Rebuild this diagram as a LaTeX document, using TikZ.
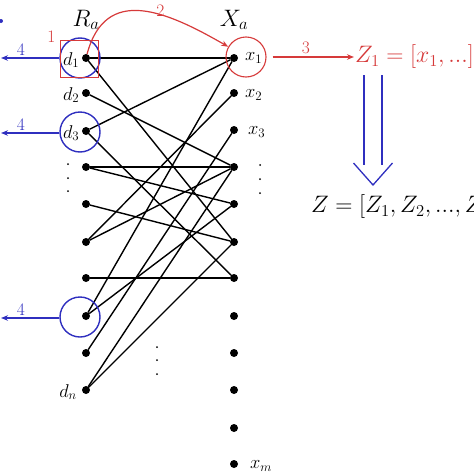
\RequirePackage{fix-cm}
\documentclass[tikz,border=0pt]{standalone}
\usepackage{mathtools}
\usepackage{tkz-graph}
\usetikzlibrary{arrows.meta,positioning}
\definecolor{myRed}{HTML}{D63A3A}
\definecolor{myBlue}{HTML}{2F2FBF}

\begin{document}
\begin{tikzpicture}[x=1pt,y=1pt]
	\useasboundingbox (0,0) rectangle (474,-474);
	\clip (0,0) rectangle (474,-474);
	\GraphInit[vstyle=Classic]
	\SetVertexNoLabel
	\tikzset{VertexStyle/.style = {shape=circle, fill=black, minimum size=8pt, inner sep=0pt}}
	\SetUpEdge[lw=1.4pt, style={-}, color=black]
	\tikzset{small/.style = {font=\fontsize{18.5}{22}\selectfont, inner sep=1pt, yshift=-2pt},
		big/.style = {font=\fontsize{23.8}{28}\selectfont, inner sep=1pt},
		num/.style = {font=\fontsize{17.5}{21}\selectfont, inner sep=1pt},
		blueRing/.style = {circle, draw=myBlue, line width=1.4pt, minimum size=40pt, inner sep=0pt},
		redRing/.style = {circle, draw=myRed, line width=1.1pt, minimum size=40pt, inner sep=0pt},
		redBox/.style = {rectangle, draw=myRed, line width=1pt, minimum width=38pt, minimum height=37pt, inner sep=0pt},
		blueArrow/.style = {myBlue, line width=1.2pt, -{Stealth[length=7pt, width=5.5pt]}},
		redArrow/.style = {myRed, line width=1.2pt, -{Stealth[length=7pt, width=5.5pt]}}}
	
	% Knoten
	\Vertex[x=86,y=-58]{d1}
	\Vertex[x=86,y=-93]{d2}
	\Vertex[x=86,y=-131]{d3}
	\Vertex[x=86,y=-167]{d4}
	\Vertex[x=86,y=-204]{d5}
	\Vertex[x=86,y=-242]{d6}
	\Vertex[x=86,y=-278]{d7}
	\Vertex[x=86,y=-316]{d8}
	\Vertex[x=86,y=-353]{d9}
	\Vertex[x=86,y=-390]{d10}
	
	\Vertex[x=234,y=-58]{x1}
	\Vertex[x=234,y=-93]{x2}
	\Vertex[x=234,y=-130]{x3}
	\Vertex[x=234,y=-167]{x4}
	\Vertex[x=234,y=-204]{x5}
	\Vertex[x=234,y=-242]{x6}
	\Vertex[x=234,y=-278]{x7}
	\Vertex[x=234,y=-316]{x8}
	\Vertex[x=234,y=-353]{x9}
	\Vertex[x=234,y=-390]{x10}
	\Vertex[x=234,y=-428]{x11}
	\Vertex[x=234,y=-464]{x12}
	
	% Beschriftung
	\node[small, left=1.5pt of d1] (ld1) {$d_1$};
	\node[small, left=1.5pt of d2] (ld2) {$d_2$};
	\node[small, left=1.5pt of d3] (ld3) {$d_3$};
	\node[small, left=4pt of d10] (ld10) {$d_n$};
	\node[small, right=6pt of x1, yshift=2pt] (lx1) {$x_1$};
	\node[small, right=6pt of x2] (lx2) {$x_2$};
	\node[small, right=9pt of x3] (lx3) {$x_3$};
	\node[small, right=11pt of x12] (lx12) {$x_m$};
	\node[big] (ra) at (86,-20) {$R_a$};
	\node[big] (xa) at (234,-20) {$X_a$};
	
	\fill (68,-164) circle (1pt) (68,-178) circle (1pt) (68,-191) circle (1pt);
	\fill (260,-165) circle (1pt) (260,-179) circle (1pt) (260,-193) circle (1pt);
	\fill (157,-347) circle (1pt) (157,-360) circle (1pt) (157,-374) circle (1pt);
	
	% Kanten
	\Edge(d1)(x1)
	\Edge(d1)(x6)
	\Edge(d2)(x4)
	\Edge(d3)(x1)
	\Edge(d3)(x7)
	\Edge(d4)(x4)
	\Edge(d4)(x5)
	\Edge(d5)(x6)
	\Edge(d6)(x2)
	\Edge(d6)(x4)
	\Edge(d7)(x7)
	\Edge(d8)(x1)
	\Edge(d8)(x5)
	\Edge(d9)(x3)
	\Edge(d10)(x4)
	\Edge(d10)(x6)
	
	% Markierungen
	\node[blueRing] (c1) at (80,-58) {};
	\node[blueRing] (c3) at (80,-132) {};
	\node[blueRing] (c8) at (80,-317) {};
	\node[redBox] (b1) at (79,-58.5) {};
	\node[num, text=myRed, anchor=south east, inner sep=0pt] (lb1) at ([xshift=-4pt, yshift=-3pt]b1.north west) {1};
	\node[redRing] (r1) at (246,-57) {};
	
	\coordinate (o1) at (1,-58);
	\coordinate (o3) at (1,-133);
	\coordinate (o8) at (1,-318);
	\draw[blueArrow] (c1) -- node[num, text=myBlue, pos=0.66, above=1pt] {4} (o1);
	\draw[blueArrow] (c3.west |- o3) -- node[num, text=myBlue, pos=0.66, above=1pt] {4} (o3);
	\draw[blueArrow] (c8.west |- o8) -- node[num, text=myBlue, pos=0.66, above=1pt] {4} (o8);
	\fill[myBlue] (1,-21) circle (2pt);
	
	% Ergebnis
	\node[big, text=myRed, anchor=west] (z1) at (354,-57) {$Z_1=[x_1,...]$};
	\node[big, anchor=west] (z) at (310,-207) {$Z=[Z_1,Z_2,...,Z_n]$};
	\draw[redArrow] (d1) to[out=75, in=150, looseness=1.3] node[num, text=myRed, pos=0.62, above=-3pt] {2} (r1);
	\draw[redArrow, shorten <=6pt] (r1) -- node[num, text=myRed, pos=0.45, above=2pt] {3} (z1);
	
	\coordinate (zt) at (373,-75);
	\coordinate (zb) at (373,-185);
	\draw[myBlue, line width=1.3pt] ([xshift=-9pt]zt) -- ([xshift=-9pt, yshift=20pt]zb);
	\draw[myBlue, line width=1.3pt] ([xshift=9pt]zt) -- ([xshift=9pt, yshift=20pt]zb);
	\draw[myBlue, line width=1.3pt] ([xshift=-19.5pt, yshift=22pt]zb) -- (zb) -- ([xshift=19.5pt, yshift=22pt]zb);
	
\end{tikzpicture}
\end{document}
